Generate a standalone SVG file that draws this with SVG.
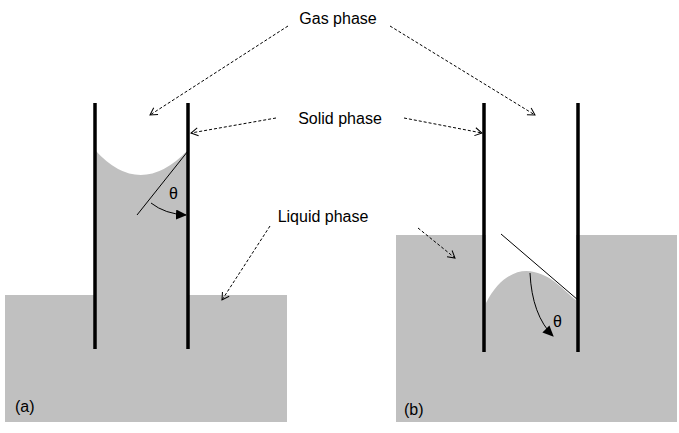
<svg xmlns="http://www.w3.org/2000/svg" width="679" height="433" viewBox="0 0 679 433">
<style>
.liq{fill:#c0c0c0;stroke:none}
.wall{stroke:#000;stroke-width:3.5;fill:none}
.thin{stroke:#000;stroke-width:1;fill:none}
.dash{stroke:#000;stroke-width:1;stroke-dasharray:3,2;fill:none;marker-end:url(#open)}
text{font-family:"Liberation Sans",Arial,sans-serif;font-size:16px;fill:#000}
</style>
<defs>
<marker id="open" markerWidth="10" markerHeight="10" refX="8" refY="5" orient="auto" markerUnits="userSpaceOnUse"><path d="M1,1 L8,5 L1,9" fill="none" stroke="#000" stroke-width="1"/></marker>
<marker id="solid" markerWidth="12" markerHeight="10" refX="10" refY="5" orient="auto" markerUnits="userSpaceOnUse"><path d="M0,0 L11,5 L0,10 Z" fill="#000"/></marker>
</defs>
<rect width="679" height="433" fill="#fff"/>
<g id="panel-a">
<rect class="liq" x="5" y="295" width="282" height="127"/>
<path class="liq" d="M95,150 Q140,200 188,150 L188,300 L95,300 Z"/>
<line class="wall" x1="95" y1="103" x2="95" y2="349"/>
<line class="wall" x1="188" y1="103" x2="188" y2="349"/>
<line class="thin" x1="188" y1="151" x2="137" y2="215"/>
<path class="thin" d="M151,203 Q165,214 186,215" marker-end="url(#solid)"/>
<text x="169" y="199">θ</text>
<text x="15" y="412">(a)</text>
</g>
<g id="panel-b">
<rect class="liq" x="396" y="235" width="281" height="187"/>
<rect x="486" y="235" width="90" height="70" fill="#fff"/>
<path class="liq" d="M486,303 C500,275 520,268 534,272 C555,277 565,292 576,300 L576,310 L486,310 Z"/>
<line class="wall" x1="484" y1="103" x2="484" y2="352"/>
<line class="wall" x1="578" y1="103" x2="578" y2="352"/>
<line class="thin" x1="501" y1="234" x2="578" y2="300"/>
<path class="thin" d="M530,273 Q532,315 553,336" marker-end="url(#solid)"/>
<text x="553" y="327">θ</text>
<text x="404" y="415">(b)</text>
</g>
<g id="labels">
<text x="338" y="24" text-anchor="middle">Gas phase</text>
<text x="340" y="124" text-anchor="middle">Solid phase</text>
<text x="323" y="222" text-anchor="middle">Liquid phase</text>
</g>
<g id="connectors">
<path class="dash" d="M288,26 L150,115"/>
<path class="dash" d="M390,26 L535,115"/>
<path class="dash" d="M276,118 L191,133"/>
<path class="dash" d="M404,118 L482,133"/>
<path class="dash" d="M270,226 L222,300"/>
<path class="dash" d="M418,228 L455,258"/>
</g>
</svg>
